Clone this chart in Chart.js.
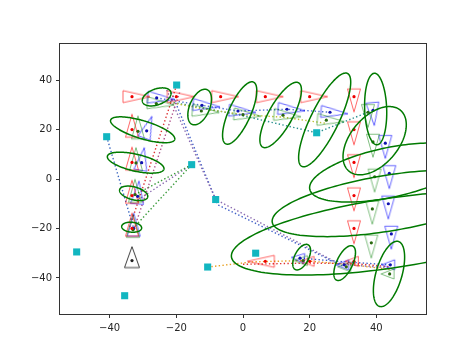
<!DOCTYPE html>
<html>
<head>
<meta charset="utf-8">
<script src="https://cdn.jsdelivr.net/npm/chart.js"></script>
<style>html,body{margin:0;padding:0;background:#fff}</style>
</head>
<body>
<canvas id="myChart" width="474" height="355"></canvas>
<script>
// axis ticks
const xTicks = [-40, -20, 0, 20, 40];
const yTicks = [-40, -20, 0, 20, 40];

// true path (red), heading in degrees clockwise from north
const redX = [-33.3, -33.3, -33.3, -33.3, -33.3, -20.0, -6.7, 6.7, 20.0, 33.3, 33.3, 33.3, 33.3, 33.3, 33.3, 20.0, 6.7];
const redY = [-20.0, -6.7, 6.7, 20.0, 33.3, 33.3, 33.3, 33.3, 33.3, 33.3, 20.0, 6.7, -6.7, -20.0, -33.3, -33.3, -33.3];
const redHeading = [0, 0, 0, 0, 90, 90, 90, 90, 90, 180, 180, 180, 180, 180, 270, 270, 270];

// estimate (green)
const greenX = [-33.0, -32.4, -32.1, -31.5, -26.0, -12.5, 0.0, 12.0, 25.0, 37.5, 39.0, 39.5, 38.8, 38.5, 44.0, 31.0, 18.0];
const greenY = [-20.5, -6.3, 6.5, 19.3, 30.5, 27.5, 26.0, 25.8, 23.8, 27.0, 15.0, 0.9, -12.1, -25.8, -38.4, -35.5, -33.0];
const greenHeading = [0, 0, 0, 0, 95, 95, 95, 95, 95, 180, 180, 180, 180, 180, 270, 270, 270];

// estimate (blue)
const blueX = [-32.8, -31.6, -30.4, -28.9, -25.9, -12.3, -1.5, 13.2, 26.1, 39.0, 42.7, 43.9, 43.6, 44.5, 44.2, 30.4, 17.1];
const blueY = [-20.0, -7.0, 6.6, 19.5, 32.8, 29.8, 27.5, 28.2, 27.0, 27.8, 14.5, 2.3, -10.0, -22.2, -34.7, -34.7, -32.0];
const blueHeading = [0, 5, 10, 20, 95, 95, 95, 95, 95, 175, 180, 180, 180, 180, 270, 270, 275];

// start marker
const startX = [-33.3];
const startY = [-33.0];

// detections
const cyanX = [-19.9, -40.9, -15.4, -8.2, -49.9, -35.5, -10.6, 22.1, 3.8];
const cyanY = [38.0, 17.1, 5.8, -8.3, -29.5, -47.2, -35.6, 18.7, -30.0];

// dotted trails
const trailRedX = [-19.9, -34.0];
const trailRedY = [38.0, -19.5];
const trailPinkX = [-19.0, -32.5];
const trailPinkY = [35.0, -19.5];
const trailPurpleX = [-22.9, -8.2, 29.0, 44.0];
const trailPurpleY = [36.0, -8.3, -34.4, -36.0];
const trailBlueX = [-21.5, -7.5, 30.4];
const trailBlueY = [35.0, -10.5, -35.5];
const trailBlueLX = [-40.9, -32.8];
const trailBlueLY = [17.1, -20.0];
const trailGreenAX = [-15.4, -32.4];
const trailGreenAY = [5.8, -6.3];
const trailPurpleBX = [-15.4, -31.6];
const trailPurpleBY = [5.8, -8.5];
const trailGreenBX = [-15.4, -33.0];
const trailGreenBY = [5.8, -20.0];
const trailOliveX = [-22.0, -12.5, 0.0, 12.0, 25.0];
const trailOliveY = [31.0, 28.5, 26.0, 25.0, 22.5];
const trailTealX = [-23.0, -1.0, 22.1, 37.5];
const trailTealY = [31.5, 25.9, 18.7, 27.0];
const trailBlueTX = [-25.9, -12.3, -1.5, 13.2, 26.1];
const trailBlueTY = [32.8, 29.8, 27.5, 28.2, 27.0];
const trailOrangeX = [-10.6, 3.0, 18.0, 31.0, 44.0];
const trailOrangeY = [-35.6, -33.5, -33.0, -34.5, -36.5];
const trailRedBX = [0.0, 20.0, 33.3, 44.0];
const trailRedBY = [-34.5, -34.0, -34.2, -35.5];
const trailBlueBX = [17.1, 30.4, 44.2];
const trailBlueBY = [-32.0, -33.5, -34.7];

// covariance ellipses: centre and two conjugate semi-diameters (data units)
const ellCx = [-25.9, -13.0, -1.0, 11.3, 24.5, 39.8, 39.5, 43.8, 43.4, 44.3, -30.1, -32.2, -32.8, -33.4, 17.6, 30.5, 43.8];
const ellCy = [33.2, 29.1, 26.7, 25.9, 23.9, 28.3, 15.5, 2.6, -9.8, -21.9, 19.9, 6.6, -5.8, -19.5, -31.6, -34.0, -38.4];
const ellAx = [4.23, 2.23, 4.15, 5.38, 6.84, -0.38, 7.72, 23.77, 34.63, 47.76, 9.61, 8.48, 4.2, 2.99, 1.91, 2.41, 2.81];
const ellAy = [2.06, 7.03, 12.49, 13.01, 18.79, 14.46, 12.32, 6.77, 7.68, 9.68, -3.93, -2.62, -1.51, -0.35, 5.01, 6.92, 13.14];
const ellBx = [-0.82, -2.76, -3.02, -3.15, -3.78, -3.30, -5.52, -1.56, -1.37, -1.57, 0.79, 0.57, 0.5, 0.13, -1.87, -2.18, -3.75];
const ellBy = [3.02, 1.57, 1.80, 2.34, 2.47, -0.15, 6.20, 9.83, 11.11, 13.91, 3.46, 3.33, 2.52, 2.0, 1.28, 1.36, 1.44];

const pts = (xs, ys) => xs.map((x, i) => ({x: x, y: ys[i]}));

function triangleMarker(color, len, base) {
  const s = 2 * Math.ceil(len * 2 / 3 + 2);
  const c = document.createElement('canvas');
  c.width = s; c.height = s;
  const g = c.getContext('2d');
  const m = s / 2;
  g.strokeStyle = color;
  g.lineWidth = 1;
  g.beginPath();
  g.moveTo(m, m - len * 2 / 3);
  g.lineTo(m + base / 2, m + len / 3);
  g.lineTo(m - base / 2, m + len / 3);
  g.closePath();
  g.stroke();
  return c;
}

// three looks per colour: upright/downright, sideways (longer), far bottom row (small)
function markerSet(color) {
  return {
    tall: triangleMarker(color, 23, 13),
    wide: triangleMarker(color, 27, 12),
    small: triangleMarker(color, 13, 10)
  };
}
const redTri = markerSet('rgba(255,0,0,0.6)');
const greenTri = markerSet('rgba(0,128,0,0.5)');
const blueTri = markerSet('rgba(0,0,255,0.6)');
const blackTri = triangleMarker('rgba(30,30,30,0.85)', 21, 15);

const farRow = p => p.y < -28 && p.x > 10;
const sideways = h => Math.abs(Math.sin(h * Math.PI / 180)) > 0.7;

function triSet(label, xs, ys, heading, set) {
  return {
    label: label,
    data: pts(xs, ys),
    pointStyle: ctx => {
      if (!ctx.raw) return set.tall;
      if (farRow(ctx.raw)) return set.small;
      return sideways(heading[ctx.dataIndex]) ? set.wide : set.tall;
    },
    pointRotation: heading,
    pointRadius: 5,
    showLine: false
  };
}
function dotSet(label, xs, ys, color) {
  return {
    label: label,
    data: pts(xs, ys),
    pointStyle: 'circle',
    pointRadius: 1.6,
    backgroundColor: color,
    borderWidth: 0,
    showLine: false
  };
}
function trail(label, xs, ys, color) {
  return {
    label: label,
    data: pts(xs, ys),
    showLine: true,
    borderColor: color,
    borderWidth: 1.4,
    borderDash: [1.4, 2.3],
    pointRadius: 0,
    fill: false
  };
}

const ellipsePlugin = {
  id: 'ellipses',
  afterDatasetsDraw(chart) {
    const {ctx, chartArea: a, scales} = chart;
    ctx.save();
    ctx.beginPath();
    ctx.rect(a.left, a.top, a.right - a.left, a.bottom - a.top);
    ctx.clip();
    ctx.strokeStyle = '#007a00';
    ctx.lineWidth = 1.5;
    for (let k = 0; k < ellCx.length; k++) {
      ctx.beginPath();
      for (let i = 0; i <= 160; i++) {
        const t = i / 160 * 2 * Math.PI;
        const vx = ellCx[k] + Math.cos(t) * ellAx[k] + Math.sin(t) * ellBx[k];
        const vy = ellCy[k] + Math.cos(t) * ellAy[k] + Math.sin(t) * ellBy[k];
        const px = scales.x.getPixelForValue(vx);
        const py = scales.y.getPixelForValue(vy);
        if (i === 0) ctx.moveTo(px, py); else ctx.lineTo(px, py);
      }
      ctx.closePath();
      ctx.stroke();
    }
    ctx.restore();
  }
};

const framePlugin = {
  id: 'frame',
  afterDraw(chart) {
    const {ctx, chartArea: a} = chart;
    ctx.save();
    ctx.strokeStyle = '#333';
    ctx.lineWidth = 1;
    ctx.strokeRect(Math.round(a.left) + 0.5, Math.round(a.top) + 0.5,
      Math.round(a.right - a.left) - 1, Math.round(a.bottom - a.top) - 1);
    ctx.restore();
  }
};

const fmt = v => (v < 0 ? '\u2212' + Math.abs(v) : String(v));

const data = {
  datasets: [
    dotSet('red centre', redX, redY, '#ee0000'),
    dotSet('green centre', greenX, greenY, '#2a6a10'),
    dotSet('blue centre', blueX, blueY, '#1010b0'),
    dotSet('start centre', startX, startY, '#222'),
    triSet('truth', redX, redY, redHeading, redTri),
    triSet('green track', greenX, greenY, greenHeading, greenTri),
    triSet('blue track', blueX, blueY, blueHeading, blueTri),
    {
      label: 'start',
      data: pts(startX, startY),
      pointStyle: blackTri,
      pointRadius: 5,
      showLine: false
    },
    {
      label: 'detections',
      data: pts(cyanX, cyanY),
      pointStyle: 'rect',
      pointRadius: 5,
      backgroundColor: '#12b6c0',
      borderWidth: 0,
      showLine: false
    },
    trail('red', trailRedX, trailRedY, '#dd3333'),
    trail('pink', trailPinkX, trailPinkY, '#b0508a'),
    trail('purple', trailPurpleX, trailPurpleY, '#8a6ab0'),
    trail('blue', trailBlueX, trailBlueY, '#4060c8'),
    trail('blue left', trailBlueLX, trailBlueLY, '#3a66c0'),
    trail('green a', trailGreenAX, trailGreenAY, '#3a9a3a'),
    trail('purple b', trailPurpleBX, trailPurpleBY, '#8a6ab0'),
    trail('green b', trailGreenBX, trailGreenBY, '#3a9a3a'),
    trail('olive', trailOliveX, trailOliveY, '#b8c030'),
    trail('teal', trailTealX, trailTealY, '#2a9090'),
    trail('blue top', trailBlueTX, trailBlueTY, '#5070d0'),
    trail('orange', trailOrangeX, trailOrangeY, '#e8a020'),
    trail('red bottom', trailRedBX, trailRedBY, '#dd3333'),
    trail('blue bottom', trailBlueBX, trailBlueBY, '#4060c8')
  ]
};

const tickFont = {family: 'DejaVu Sans', size: 10};

const config = {
  type: 'scatter',
  data,
  options: {
    responsive: false,
    devicePixelRatio: 1,
    animation: false,
    layout: {padding: {left: 0, right: 47, top: 43, bottom: 0}},
    plugins: {legend: {display: false}, tooltip: {enabled: false}},
    scales: {
      x: {
        type: 'linear',
        min: -55.2,
        max: 55.2,
        afterBuildTicks: s => { s.ticks = xTicks.map(v => ({value: v})); },
        afterFit: s => { s.height = 40; },
        ticks: {callback: fmt, font: tickFont, color: '#262626', padding: 4, maxRotation: 0},
        grid: {display: true, drawOnChartArea: false, drawTicks: true, tickLength: 3, color: '#333'},
        border: {display: false}
      },
      y: {
        type: 'linear',
        min: -55,
        max: 55,
        afterBuildTicks: s => { s.ticks = yTicks.map(v => ({value: v})); },
        afterFit: s => { s.width = 59; },
        ticks: {callback: fmt, font: tickFont, color: '#262626', padding: 4},
        grid: {display: true, drawOnChartArea: false, drawTicks: true, tickLength: 3, color: '#333'},
        border: {display: false}
      }
    }
  },
  plugins: [ellipsePlugin, framePlugin]
};

const myChart = new Chart(document.getElementById('myChart'), config);
</script>
</body>
</html>
